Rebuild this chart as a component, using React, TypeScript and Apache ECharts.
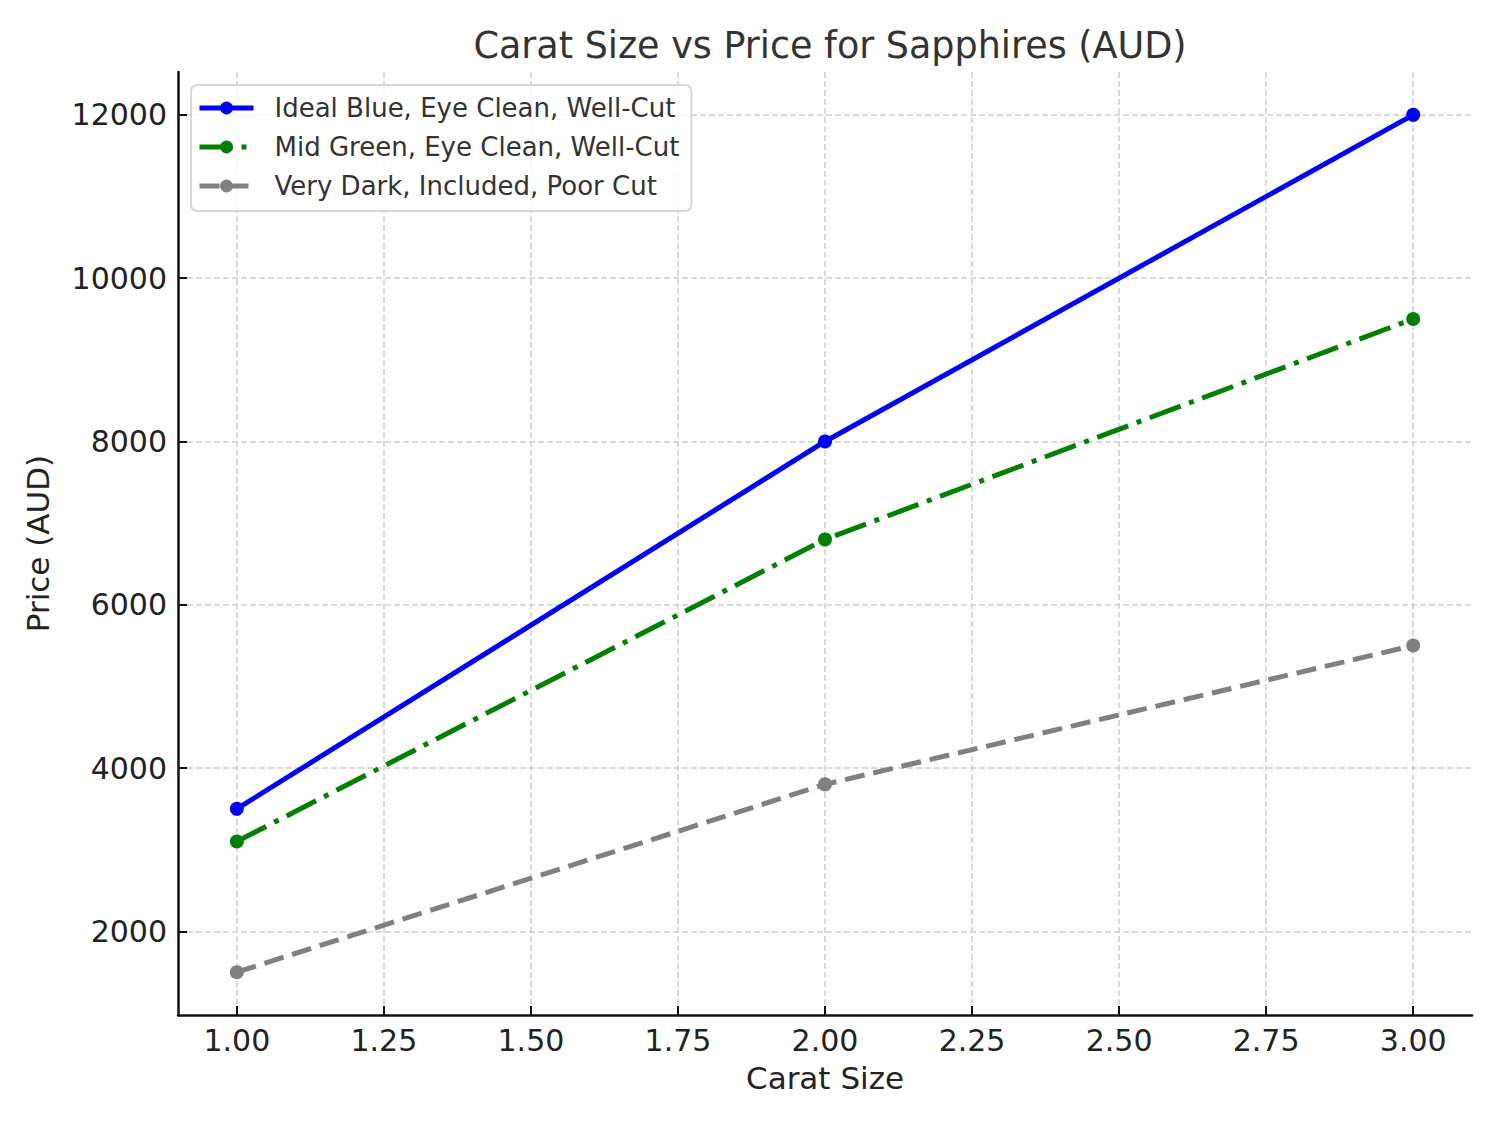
import { useEffect, useRef } from "react";
import * as echarts from "echarts";

const caratSizes = [1, 2, 3];
const idealBlue = [3500, 8000, 12000];
const midGreen = [3100, 6800, 9500];
const veryDark = [1500, 3800, 5500];

const xTicks = [1, 1.25, 1.5, 1.75, 2, 2.25, 2.5, 2.75, 3];
const yTicks = [2000, 4000, 6000, 8000, 10000, 12000];

const seriesNames = [
  "Ideal Blue, Eye Clean, Well-Cut",
  "Mid Green, Eye Clean, Well-Cut",
  "Very Dark, Included, Poor Cut",
];

const FONT = "DejaVu Sans";

export default function App() {
  const chartRef = useRef<HTMLDivElement>(null);

  useEffect(() => {
    document.body.style.margin = "0";
    if (!chartRef.current) return;
    const chart = echarts.init(chartRef.current, null, { renderer: "svg" });

    const pairs = (ys: number[]) => caratSizes.map((x, i) => [x, ys[i]]);

    const gridLine = { show: true, lineStyle: { color: "#cfcfcf", width: 1.5, type: [6, 3] } };
    const axisLine = { show: true, lineStyle: { color: "#111", width: 2.5 } };

    chart.setOption({
      animation: false,
      backgroundColor: "#fff",
      textStyle: { fontFamily: FONT },
      title: {
        text: "Carat Size vs Price for Sapphires (AUD)",
        left: 825,
        top: 22,
        textAlign: "center",
        textStyle: { fontFamily: FONT, fontSize: 36.5, fontWeight: "normal", color: "#333" },
      },
      legend: {
        orient: "vertical",
        left: 191,
        top: 85,
        padding: [10, 12, 12, 6],
        itemGap: 13,
        itemWidth: 54,
        itemHeight: 16,
        borderColor: "#d6d6d6",
        borderWidth: 2,
        borderRadius: 6,
        backgroundColor: "rgba(255,255,255,0.85)",
        lineStyle: { width: 5 },
        textStyle: { fontFamily: FONT, fontSize: 26, color: "#333", padding: [0, 0, 0, 16] },
        data: seriesNames,
      },
      grid: { left: 178, right: 28, top: 72, bottom: 110, containLabel: false },
      xAxis: {
        type: "value",
        min: 0.9,
        max: 3.1,
        name: "Carat Size",
        nameLocation: "middle",
        nameGap: 47,
        nameTextStyle: { fontFamily: FONT, fontSize: 31, color: "#222" },
        axisLine,
        axisTick: { show: true, inside: true, length: 9, customValues: xTicks, lineStyle: { color: "#111", width: 2 } },
        axisLabel: {
          customValues: xTicks,
          margin: 10,
          fontFamily: FONT,
          fontSize: 30,
          color: "#222",
          formatter: (v: number) => v.toFixed(2),
        },
        splitLine: gridLine,
      },
      yAxis: {
        type: "value",
        min: 975,
        max: 12525,
        name: "Price (AUD)",
        nameLocation: "middle",
        nameGap: 125,
        nameTextStyle: { fontFamily: FONT, fontSize: 31, color: "#222" },
        axisLine,
        axisTick: { show: true, inside: true, length: 9, customValues: yTicks, lineStyle: { color: "#111", width: 2 } },
        axisLabel: {
          customValues: yTicks,
          margin: 11,
          fontFamily: FONT,
          fontSize: 30,
          color: "#222",
          formatter: (v: number) => String(v),
        },
        splitLine: gridLine,
      },
      series: [
        {
          name: seriesNames[0],
          type: "line",
          data: pairs(idealBlue),
          symbol: "circle",
          symbolSize: 14,
          itemStyle: { color: "#0000ff" },
          lineStyle: { color: "#0000ff", width: 5, type: "solid" },
        },
        {
          name: seriesNames[1],
          type: "line",
          data: pairs(midGreen),
          symbol: "circle",
          symbolSize: 14,
          itemStyle: { color: "#008000" },
          lineStyle: { color: "#008000", width: 5, type: [33, 9, 5, 9], cap: "butt" },
        },
        {
          name: seriesNames[2],
          type: "line",
          data: pairs(veryDark),
          symbol: "circle",
          symbolSize: 14,
          itemStyle: { color: "#808080" },
          lineStyle: { color: "#808080", width: 5, type: [20, 9], cap: "butt" },
        },
      ],
    });

    return () => chart.dispose();
  }, []);

  return <div ref={chartRef} style={{ width: 1500, height: 1125 }} />;
}
